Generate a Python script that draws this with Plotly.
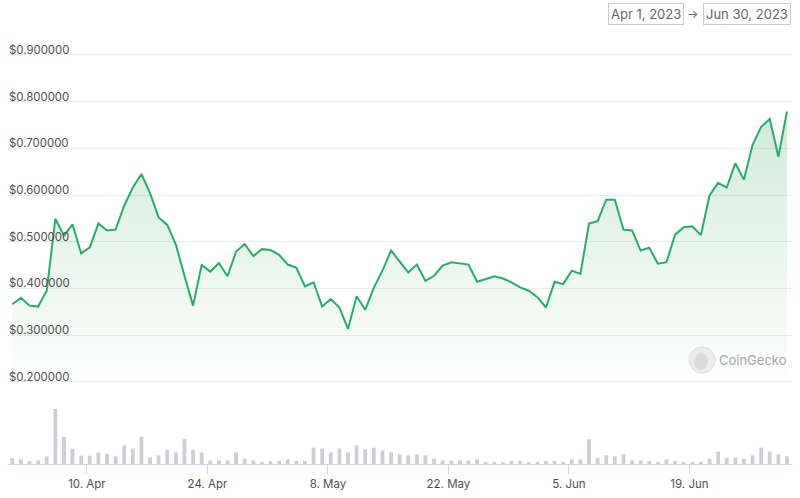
import pandas as pd
import plotly.graph_objects as go

# ---------------- data ----------------
start_date = "2023-04-01 08:00"
price = [
    0.366, 0.380, 0.363, 0.361, 0.395, 0.549, 0.513, 0.537, 0.475, 0.488,
    0.539, 0.524, 0.526, 0.577, 0.616, 0.645, 0.604, 0.552, 0.536, 0.494,
    0.427, 0.363, 0.450, 0.436, 0.454, 0.426, 0.479, 0.495, 0.469, 0.484,
    0.482, 0.472, 0.451, 0.444, 0.404, 0.413, 0.361, 0.377, 0.359, 0.313,
    0.383, 0.354, 0.401, 0.438, 0.481, 0.457, 0.434, 0.451, 0.416, 0.427,
    0.449, 0.456, 0.454, 0.451, 0.414, 0.420, 0.426, 0.421, 0.413, 0.402,
    0.395, 0.381, 0.359, 0.414, 0.409, 0.438, 0.431, 0.539, 0.544, 0.590,
    0.590, 0.526, 0.524, 0.481, 0.487, 0.453, 0.456, 0.515, 0.531, 0.533,
    0.514, 0.599, 0.626, 0.616, 0.668, 0.633, 0.707, 0.746, 0.763, 0.682,
    0.779,
]
volume = [
    17, 14, 9, 11, 23, 165, 82, 46, 25, 25,
    35, 30, 23, 56, 46, 82, 20, 26, 43, 35,
    75, 43, 35, 11, 11, 11, 35, 17, 11, 4,
    9, 9, 14, 9, 9, 49, 46, 35, 46, 35,
    56, 44, 49, 41, 35, 29, 26, 29, 26, 16,
    11, 11, 11, 11, 14, 4, 4, 4, 9, 9,
    6, 6, 9, 9, 6, 14, 14, 74, 19, 26,
    23, 29, 11, 11, 9, 6, 14, 9, 6, 6,
    6, 16, 37, 19, 19, 16, 26, 49, 37, 29,
    23,
]
dates = pd.date_range(start_date, periods=len(price), freq="D")
price_ticks = [0.2, 0.3, 0.4, 0.5, 0.6, 0.7, 0.8, 0.9]
date_ticks = ["2023-04-10", "2023-04-24", "2023-05-08", "2023-05-22", "2023-06-05", "2023-06-19"]
range_from = "Apr 1, 2023"
range_to = "Jun 30, 2023"

# ---------------- styling / geometry ----------------
W, H = 800, 498
ML, MR, MT, MB = 8, 8, 40, 34
PW, PH = W - ML - MR, H - MT - MB
GREEN = "#2aab6b"
FONT = "Inter, 'Noto Sans', sans-serif"
LABEL = "#4f4f4f"

def px_x(px):
    return (px - ML) / PW

def px_y(py):
    return (H - MB - py) / PH

fig = go.Figure()

fig.add_trace(go.Bar(
    x=dates, y=volume, yaxis="y2",
    marker=dict(color="#cccfd6", line=dict(width=0)),
    width=0.44 * 86400000,
    hoverinfo="skip",
))

fig.add_trace(go.Scatter(
    x=dates, y=price, mode="lines",
    line=dict(color=GREEN, width=2),
    fill="tozeroy",
    fillgradient=dict(
        type="vertical",
        colorscale=[[0, "rgba(60,170,90,0.0)"], [1, "rgba(60,170,90,0.24)"]],
        start=0.19, stop=0.78,
    ),
    yaxis="y",
))

fig.update_layout(
    width=W, height=H,
    margin=dict(l=ML, r=MR, t=MT, b=MB),
    paper_bgcolor="white", plot_bgcolor="white",
    showlegend=False,
    font=dict(family=FONT, size=12, color=LABEL),
    xaxis=dict(
        type="date",
        range=["2023-03-31 20:00", "2023-06-30 22:00"],
        anchor="y2",
        showgrid=False, zeroline=False,
        showline=True, linecolor="#ccd6eb", linewidth=1,
        ticks="outside", ticklen=9, tickcolor="#ccd6eb", tickwidth=1,
        tickvals=date_ticks, tickformat="%-d. %b",
        tickfont=dict(size=11.5, color=LABEL),
    ),
    yaxis=dict(
        domain=[px_y(395), 1],
        range=[0.2 - (395 - 381.7) / 466.9, 0.9 + (55 - MT) / 466.9],
        tickvals=price_ticks, tickformat="$.6f",
        showgrid=True, gridcolor="#ebebeb", gridwidth=1,
        zeroline=False, showline=False,
        ticks="", ticklabelposition="inside",
        ticklabelshift=-5, ticklabelstandoff=-2,
        tickfont=dict(size=11.4, color=LABEL),
    ),
    yaxis2=dict(
        domain=[0, 55 / PH],
        range=[0, 165],
        visible=False,
    ),
    bargap=0.5,
)

# date range boxes
for txt, cx in [(range_from, 646), (range_to, 747)]:
    fig.add_annotation(
        xref="paper", yref="paper", x=px_x(cx), y=px_y(13.5),
        text=txt, showarrow=False,
        font=dict(size=13, color="#666666", family=FONT),
        bordercolor="#cccccc", borderwidth=1, borderpad=2,
        xanchor="center", yanchor="middle",
    )
fig.add_annotation(
    xref="paper", yref="paper", x=px_x(692), y=px_y(13.5),
    text="→", showarrow=False,
    font=dict(size=12, color="#666666", family=FONT),
    xanchor="center", yanchor="middle",
)

# watermark
fig.add_shape(
    type="circle", xref="paper", yref="paper",
    x0=px_x(689), x1=px_x(715), y0=px_y(373), y1=px_y(347),
    fillcolor="#ececec", line=dict(color="#dddddd", width=1),
    layer="above",
)
fig.add_shape(
    type="circle", xref="paper", yref="paper",
    x0=px_x(694), x1=px_x(708), y0=px_y(370), y1=px_y(353),
    fillcolor="#dcdcdc", line=dict(width=0),
    layer="above",
)
fig.add_annotation(
    xref="paper", yref="paper", x=px_x(717), y=px_y(360),
    text="CoinGecko", showarrow=False,
    font=dict(size=13, color="#a6a6a6", family=FONT),
    xanchor="left", yanchor="middle",
)

fig.write_html(
    "out.html",
    config={"displayModeBar": False},
    post_script="document.body.style.margin='0';document.body.style.overflow='hidden';",
)
